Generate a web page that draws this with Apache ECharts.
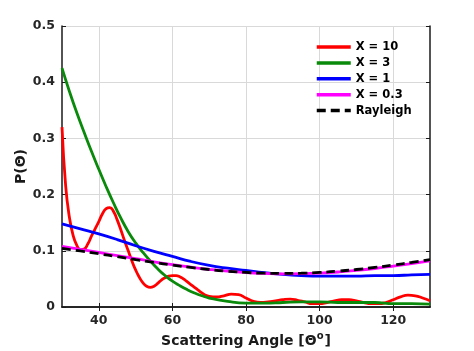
<!DOCTYPE html>
<html>
<head>
<meta charset="utf-8">
<script src="https://cdn.jsdelivr.net/npm/echarts@6/dist/echarts.min.js"></script>
<style>
  html, body { margin: 0; padding: 0; background: #fff; }
  #chart { width: 474px; height: 351px; }
</style>
</head>
<body>
<div id="chart"></div>
<script>
// scattering angle samples (degrees)
var angleRed = [30, 31, 32, 33, 34, 35, 36, 37, 38, 39, 40, 41, 42, 43, 44, 45, 46, 47, 48, 49,
    50, 51, 52, 53, 54, 55, 56, 57, 58, 59, 60, 61, 62, 63, 64, 65, 66, 67, 68, 69, 70,
    72, 74, 76, 78, 80, 82, 84, 86, 88, 90, 92, 94, 96, 98, 100, 102, 104, 106, 108, 110,
    112, 114, 116, 118, 120, 122, 124, 126, 128, 130];
var angleGreen = [30, 32, 34, 36, 38, 40, 42, 44, 46, 48, 50, 52, 54, 56, 58, 60, 62, 64, 66, 68, 70,
    75, 80, 85, 90, 95, 100, 105, 110, 115, 120, 125, 130];
var angleCoarse = [30, 35, 40, 45, 50, 55, 60, 65, 70, 75, 80, 85, 90, 95, 100, 105, 110, 115, 120, 125, 130];

// phase function values
var pX10 = [0.320, 0.215, 0.160, 0.128, 0.110, 0.102, 0.103, 0.112, 0.126, 0.139, 0.152, 0.166, 0.175, 0.177, 0.170,
    0.155, 0.137, 0.118, 0.100, 0.082, 0.066, 0.053, 0.043, 0.037, 0.035, 0.037, 0.042, 0.048, 0.052, 0.055,
    0.056, 0.056, 0.054, 0.050, 0.045, 0.040, 0.035, 0.030, 0.025, 0.021, 0.019,
    0.018, 0.020, 0.023, 0.022, 0.016, 0.010, 0.008, 0.009, 0.011, 0.013, 0.014, 0.012, 0.009, 0.006, 0.006,
    0.008, 0.011, 0.013, 0.013, 0.011, 0.008, 0.006, 0.006, 0.008, 0.013, 0.018, 0.021, 0.020, 0.016, 0.011];
var pX3 = [0.425, 0.384, 0.346, 0.311, 0.277, 0.245, 0.214, 0.185, 0.158, 0.134, 0.114, 0.097, 0.082, 0.068,
    0.056, 0.046, 0.038, 0.031, 0.025, 0.020, 0.016, 0.010, 0.007, 0.007, 0.008, 0.009, 0.009, 0.008, 0.008,
    0.008, 0.006, 0.006, 0.005];
var pX1 = [0.148, 0.139, 0.130, 0.120, 0.109, 0.099, 0.090, 0.081, 0.074, 0.069, 0.065, 0.061, 0.058, 0.056,
    0.055, 0.055, 0.055, 0.056, 0.056, 0.057, 0.058];
var pX03 = [0.108, 0.1025, 0.097, 0.0915, 0.086, 0.0805, 0.0755, 0.071, 0.067, 0.0637, 0.0613, 0.0598, 0.059,
    0.0593, 0.0603, 0.0623, 0.065, 0.0685, 0.0728, 0.0773, 0.0822];
var pRayleigh = [0.1045, 0.0997, 0.0947, 0.0895, 0.0843, 0.0793, 0.0746, 0.0704, 0.0667, 0.0637, 0.0615, 0.0601,
    0.0597, 0.0601, 0.0615, 0.0637, 0.0667, 0.0704, 0.0746, 0.0793, 0.0843];

var xTicks = [40, 60, 80, 100, 120];
var legendNames = ['X = 10', 'X = 3', 'X = 1', 'X = 0.3', 'Rayleigh'];

function zip(xs, ys) {
    return xs.map(function (x, i) { return [x, ys[i]]; });
}

var font = 'DejaVu Sans';
var axisColor = '#1a1a1a';

function lineSeries(name, xs, ys, color, dashed) {
    return {
        name: name,
        type: 'line',
        xAxisIndex: 0,
        yAxisIndex: 0,
        data: zip(xs, ys),
        smooth: true,
        symbol: 'none',
        lineStyle: { color: color, width: 2.8, type: dashed ? [9, 5] : 'solid' },
        itemStyle: { color: color },
        animation: false
    };
}

var chart = echarts.init(document.getElementById('chart'), null, { renderer: 'canvas' });
chart.setOption({
    backgroundColor: '#fff',
    animation: false,
    grid: { left: 62, right: 44, top: 26, bottom: 44, outerBoundsMode: 'none', containLabel: false },
    legend: {
        data: legendNames,
        orient: 'vertical',
        left: 310,
        top: 36,
        itemWidth: 34,
        itemHeight: 12,
        itemGap: 3.9,
        itemStyle: { opacity: 0 },
        lineStyle: { width: 3.5 },
        textStyle: { fontFamily: font, fontWeight: 'bold', fontSize: 11.5, color: '#000' }
    },
    xAxis: [{
        type: 'value',
        min: 30,
        max: 130,
        name: '{n|Scattering Angle [Θ}{s|o}{n|]}',
        nameLocation: 'middle',
        nameGap: 24,
        nameTextStyle: {
            rich: {
                n: { fontFamily: font, fontWeight: 'bold', fontSize: 14, color: '#1a1a1a' },
                s: { fontFamily: font, fontWeight: 'bold', fontSize: 10, color: '#1a1a1a', verticalAlign: 'top', padding: [0, 1, 8, 0] }
            }
        },
        axisLine: { show: true, lineStyle: { color: axisColor, width: 1.5 } },
        axisTick: { inside: true, length: 4, customValues: xTicks, lineStyle: { color: axisColor } },
        axisLabel: { customValues: xTicks, margin: 7, fontFamily: font, fontWeight: 'bold', fontSize: 12.5, color: '#262626' },
        splitLine: { show: true, lineStyle: { color: '#d9d9d9', width: 1 } }
    }, {
        type: 'value',
        position: 'top',
        min: 30,
        max: 130,
        axisLine: { show: true, lineStyle: { color: axisColor, width: 1.5 } },
        axisTick: { inside: true, length: 4, customValues: xTicks, lineStyle: { color: axisColor } },
        axisLabel: { show: false },
        splitLine: { show: false }
    }],
    yAxis: [{
        type: 'value',
        min: 0,
        max: 0.5,
        interval: 0.1,
        name: 'P(Θ)',
        nameLocation: 'middle',
        nameMoveOverlap: false,
        nameGap: 34,
        nameTextStyle: { fontFamily: font, fontWeight: 'bold', fontSize: 14, color: '#1a1a1a' },
        axisLine: { show: true, lineStyle: { color: axisColor, width: 1.5 } },
        axisTick: { show: true, inside: true, length: 4, lineStyle: { color: axisColor } },
        axisLabel: { margin: 7, fontFamily: font, fontWeight: 'bold', fontSize: 12.5, color: '#262626',
            formatter: function (v) { return v === 0 ? '0' : v.toFixed(1); } },
        splitLine: { show: true, lineStyle: { color: '#d9d9d9', width: 1 } }
    }, {
        type: 'value',
        position: 'right',
        min: 0,
        max: 0.5,
        interval: 0.1,
        axisLine: { show: true, lineStyle: { color: axisColor, width: 1.5 } },
        axisTick: { show: true, inside: true, length: 4, lineStyle: { color: axisColor } },
        axisLabel: { show: false },
        splitLine: { show: false }
    }],
    series: [
        lineSeries('X = 10', angleRed, pX10, '#ff0000', false),
        lineSeries('X = 3', angleGreen, pX3, '#0a8a0a', false),
        lineSeries('X = 1', angleCoarse, pX1, '#0000ff', false),
        lineSeries('X = 0.3', angleCoarse, pX03, '#ff00ff', false),
        lineSeries('Rayleigh', angleCoarse, pRayleigh, '#000000', true)
    ]
});
</script>
</body>
</html>
